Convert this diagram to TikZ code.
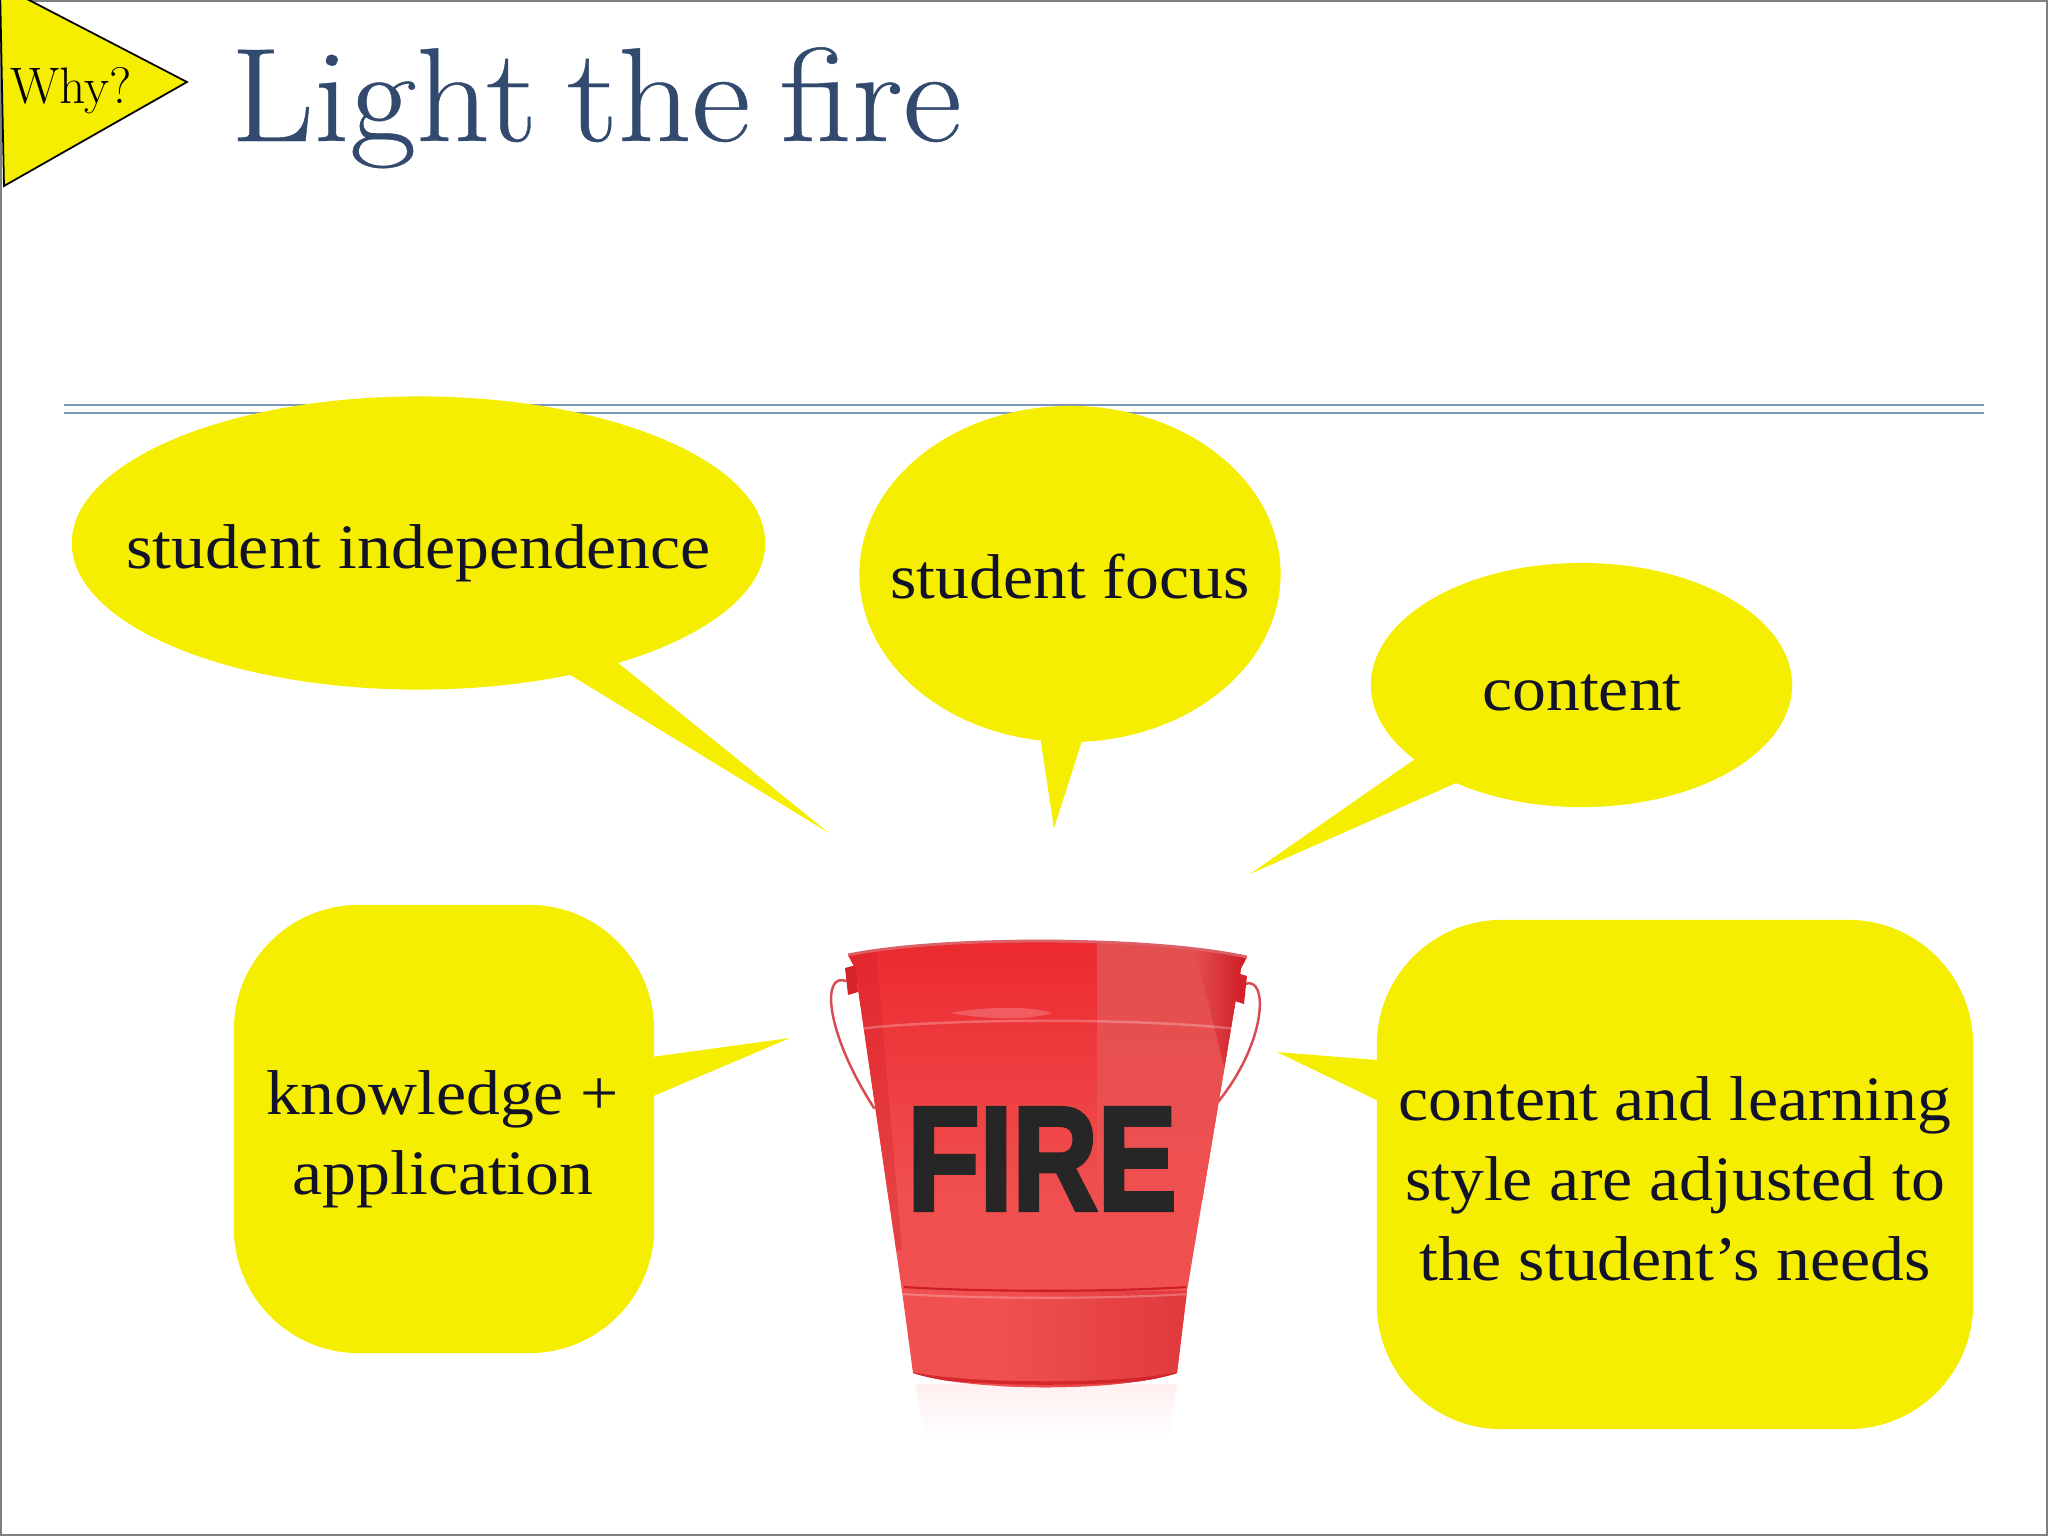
\documentclass[tikz,border=0pt]{standalone}
\usepackage{fontspec}
\setmainfont[FakeStretch=1.07]{Liberation Serif}
\newfontfamily\titlefont[FakeStretch=1.08, WordSpace=0.68, FakeBold=0.3]{Latin Modern Roman}
\newfontfamily\whyfont[FakeStretch=1.0]{Latin Modern Roman}
\newfontfamily\firefont[BoldFeatures={FakeBold=3}]{Liberation Sans}
\usetikzlibrary{shapes.geometric}
\definecolor{bubbleyellow}{RGB}{245,238,0}
\definecolor{titleblue}{RGB}{50,74,110}
\definecolor{ruleblue}{RGB}{125,150,185}
\definecolor{slideedge}{RGB}{125,130,125}
\definecolor{bodytext}{RGB}{18,18,40}
\definecolor{pailred}{RGB}{236,40,46}
\definecolor{paillow}{RGB}{240,80,80}
\definecolor{pailpanel}{RGB}{226,78,78}
\definecolor{paildark}{RGB}{205,30,38}
\begin{document}
\begin{tikzpicture}[
    x=0.01cm, y=-0.01cm,
    ellipsebubble/.style={ellipse, fill=bubbleyellow, inner sep=0pt, outer sep=0pt},
    boxbubble/.style={rectangle, rounded corners=1.25cm, fill=bubbleyellow, inner sep=0pt, outer sep=0pt},
    bubbletext/.style={inner sep=0pt, text=bodytext, font=\fontsize{18}{22.7}\selectfont, align=center},
    tail/.style={fill=bubbleyellow},
    rule/.style={ruleblue, line width=0.4pt},
    handle/.style={draw=paildark!80!white, line width=0.7pt, line cap=round}
]
    \useasboundingbox (0,0) rectangle (2048,1536);
    \fill[white] (0,0) rectangle (2048,1536);
    \draw[slideedge, line width=1pt] (0,0) rectangle (2048,1536);

    \draw[rule] (64,405) -- (1984,405);
    \draw[rule] (64,413) -- (1984,413);

    \fill[bubbleyellow, draw=black, line width=0.5pt] (0,-15) -- (187,82) -- (4,186) -- cycle;
    \node[font=\fontsize{14.6}{16}\selectfont\whyfont, anchor=base west, inner sep=0pt] (why) at (10,103) {Why?};
    \node[font=\fontsize{38}{44}\selectfont\titlefont, text=titleblue, anchor=base west, inner sep=0pt] (title) at (230,141) {Light the fire};

    % bucket
    \shade[top color=red!6, bottom color=white] (915,1384) -- (1177,1384) -- (1168,1440) -- (925,1440) -- cycle;
    \draw[handle] (846,981) .. controls (822,972) and (824,1030) .. (874,1108);
    \draw[handle] (1245,984) .. controls (1268,975) and (1268,1040) .. (1218,1102);
    \begin{scope}
        \clip (848,955) .. controls (940,936) and (1150,936) .. (1247,957) -- (1241,968) -- (1187,1291) -- (1177,1373)
            .. controls (1120,1392) and (970,1392) .. (913,1373) -- (902,1291) -- (855,968) -- cycle;
        \fill[paillow] (840,930) rectangle (1250,1400);
        \shade[top color=pailred, bottom color=paillow] (840,930) rectangle (1250,1200);
        \shade[top color=pailpanel, bottom color=paillow] (1097,930) rectangle (1250,1200);
        \shade[left color=paillow, right color=paildark!45!paillow] (1000,1291) rectangle (1190,1400);
        \fill[paildark, opacity=0.3] (850,950) -- (876,950) -- (902,1250) -- (880,1250) -- cycle;
        \shade[left color=pailpanel, right color=paildark] (1195,950) -- (1245,950) -- (1245,1150) -- cycle;
        \fill[white, opacity=0.2] (950,1013) .. controls (990,1006) and (1030,1006) .. (1052,1013) .. controls (1030,1020) and (990,1020) .. (950,1013) -- cycle;
        \draw[white, opacity=0.25, line width=0.7pt] (858,1029) .. controls (950,1018) and (1140,1018) .. (1236,1029);
        \draw[white, opacity=0.25, line width=0.6pt] (902,1294) .. controls (980,1299) and (1110,1299) .. (1187,1294);
        \draw[paildark, line width=0.6pt] (904,1287) .. controls (980,1292) and (1110,1292) .. (1186,1287);
        \draw[paildark, opacity=0.8, line width=1pt] (913,1374) .. controls (970,1386) and (1120,1386) .. (1177,1374);
    \end{scope}
    \draw[paildark!70!white, line width=0.8pt] (848,955) .. controls (940,936) and (1150,936) .. (1247,957);
    \fill[pailred!90!black] (845,968) -- (856,965) -- (858,992) -- (848,995) -- cycle;
    \fill[pailred!90!black] (1237,973) -- (1247,976) -- (1244,1004) -- (1235,1001) -- cycle;
    \node[font=\firefont\bfseries\fontsize{42}{42}\selectfont, text=black!85, xscale=0.8, transform shape, inner sep=0pt] (firetext) at (1042,1159) {FIRE};

    % bubbles
    \node[ellipsebubble, minimum width=6.93cm, minimum height=2.93cm] (indep) at (418.5,543) {};
    \node[ellipsebubble, minimum width=4.21cm, minimum height=3.36cm] (focus) at (1070,574) {};
    \node[ellipsebubble, minimum width=4.21cm, minimum height=2.44cm] (content) at (1581.5,685) {};
    \node[boxbubble, minimum width=4.2cm, minimum height=4.48cm] (know) at (444,1129) {};
    \node[boxbubble, minimum width=5.96cm, minimum height=5.09cm] (needs) at (1675,1174.5) {};

    \node[bubbletext, anchor=base] (indeptext) at (418.5,568) {student independence};
    \node[bubbletext, anchor=base] (focustext) at (1070,598) {student focus};
    \node[bubbletext, anchor=base] (contenttext) at (1582,710) {content};
    \node[bubbletext] (knowtext) at (443,1139) {knowledge +\\application};
    \node[bubbletext] (needstext) at (1675,1179) {content and learning\\style are adjusted to\\the student's needs};

    \coordinate (indeptip) at (829,833);
    \coordinate (focustip) at (1054,828);
    \coordinate (contenttip) at (1250,874);
    \coordinate (knowtip) at (790,1038);
    \coordinate (needstip) at (1277,1052);

    \fill[tail] (indep.-41) -- (indeptip) -- (indep.-31) -- cycle;
    \fill[tail] (focus.-100) -- (focustip) -- (focus.-86.5) -- cycle;
    \fill[tail] (content.-156) -- (contenttip) -- (content.-142) -- cycle;
    \fill[tail] (know.19.7) -- (knowtip) -- (know.9.5) -- cycle;
    \fill[tail] (needs.159.8) -- (needstip) -- (needs.166.9) -- cycle;
\end{tikzpicture}
\end{document}
